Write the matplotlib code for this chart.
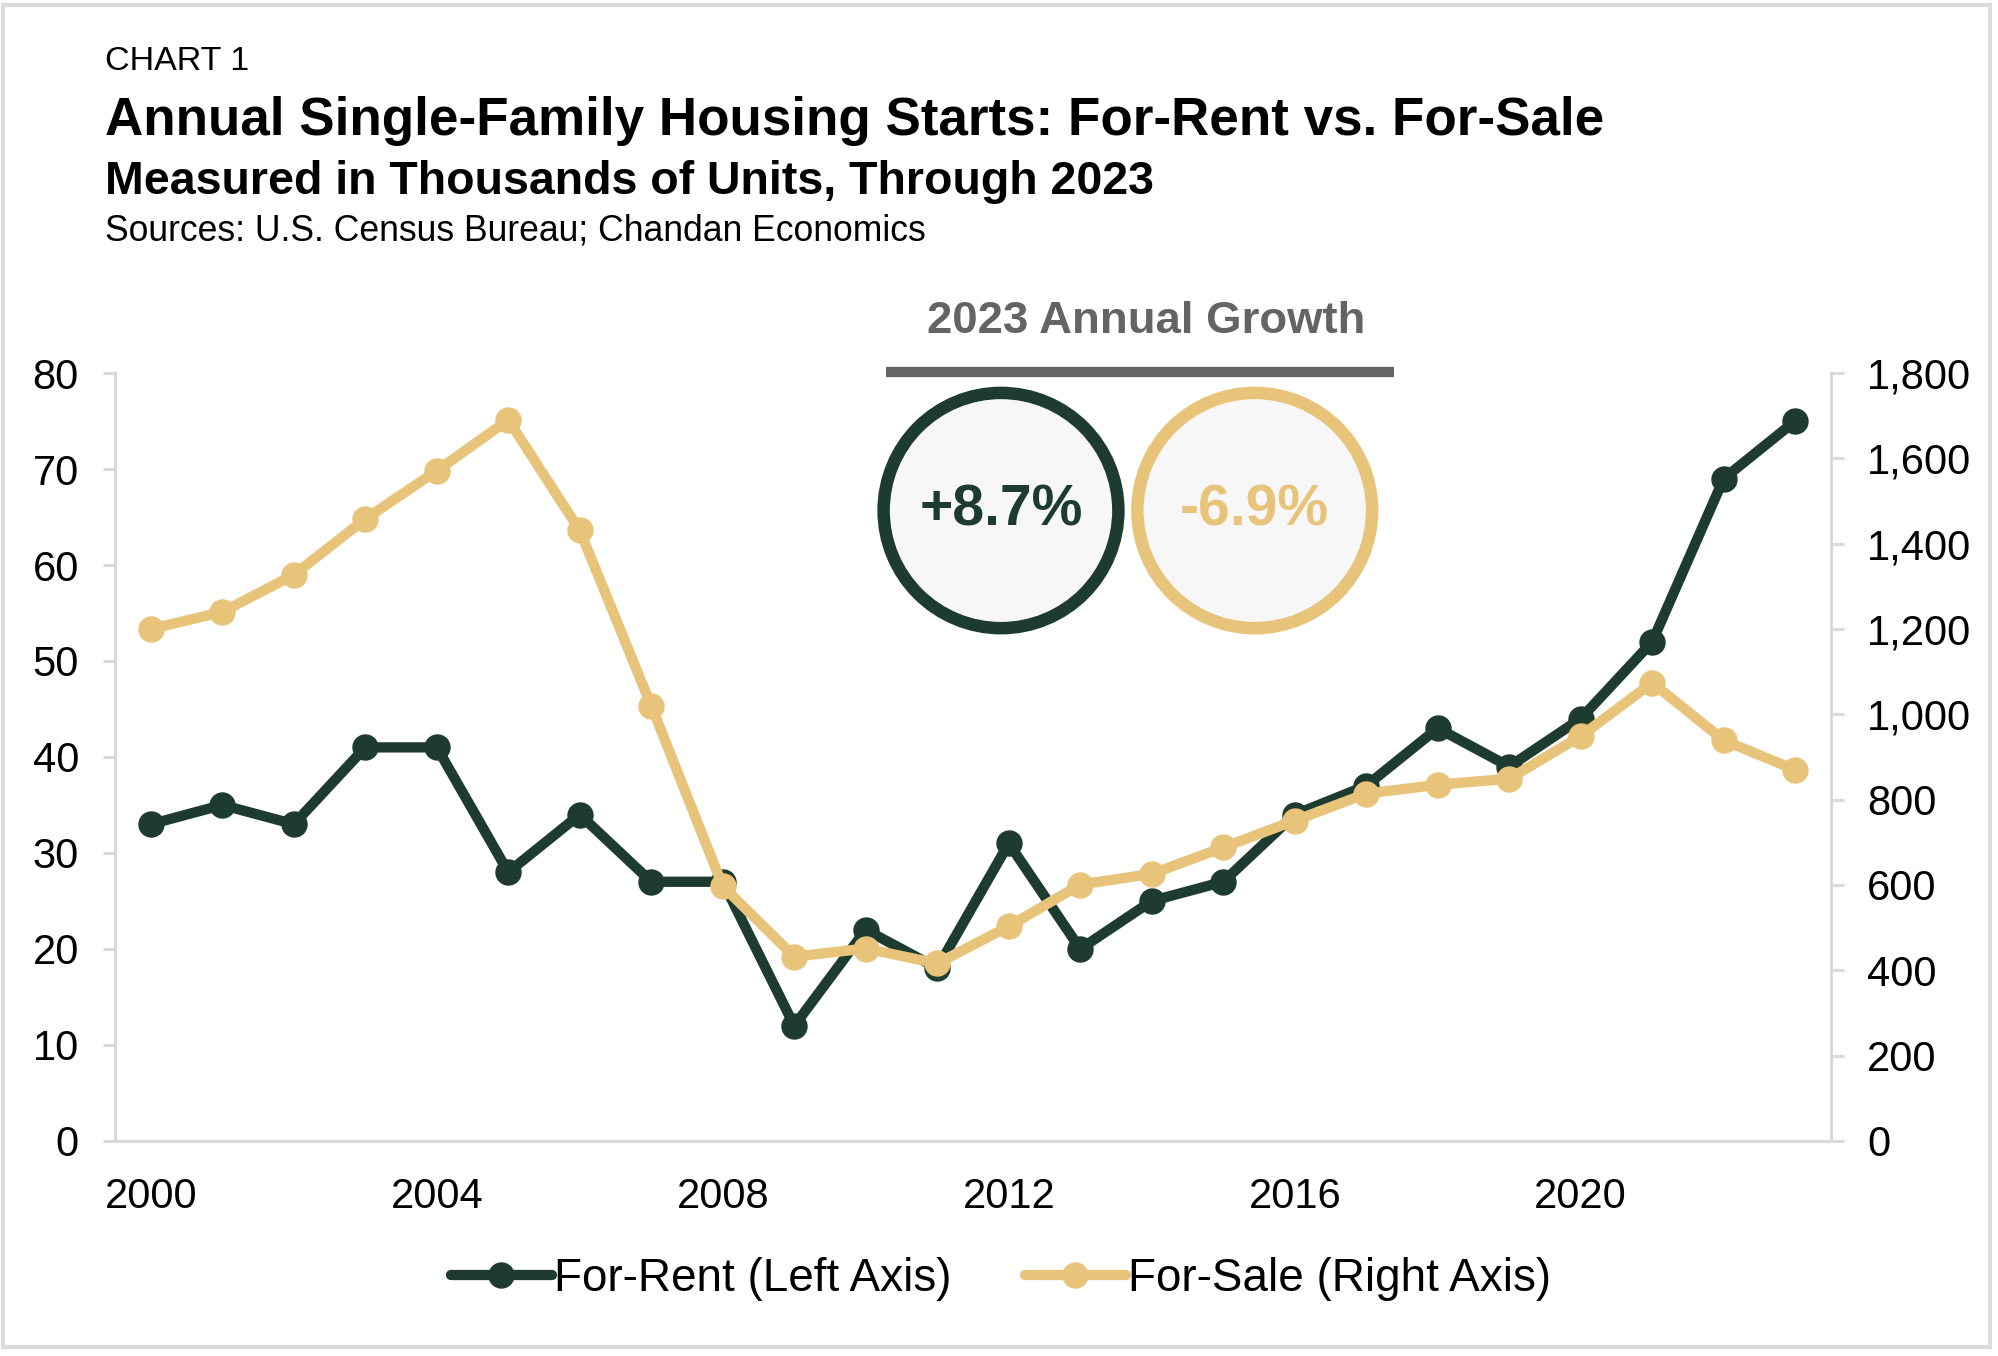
"""Chart 1 — annual single-family housing starts, for-rent vs. for-sale (thousands)."""

import matplotlib

matplotlib.use("Agg")
import matplotlib.pyplot as plt  # noqa: E402
from matplotlib import font_manager  # noqa: E402
from matplotlib.lines import Line2D  # noqa: E402
from matplotlib.patches import Ellipse, Rectangle  # noqa: E402
from matplotlib.ticker import FuncFormatter  # noqa: E402

years = list(range(2000, 2024))
for_rent = [33, 35, 33, 41, 41, 28, 34, 27, 27, 12, 22, 18,
            31, 20, 25, 27, 34, 37, 43, 39, 44, 52, 69, 75]
for_sale = [1200, 1240, 1327, 1458, 1571, 1690, 1431, 1020, 597, 432, 451, 416,
            503, 601, 626, 688, 751, 814, 835, 849, 949, 1074, 939, 870]
x_ticks = [2000, 2004, 2008, 2012, 2016, 2020]
left_ticks = [0, 10, 20, 30, 40, 50, 60, 70, 80]
right_ticks = [0, 200, 400, 600, 800, 1000, 1200, 1400, 1600, 1800]
growth_rent = "+8.7%"
growth_sale = "-6.9%"

GREEN = "#1d3c2f"
GOLD = "#e8c47b"
GREY_TXT = "#636466"
AXIS = "#d9d9d9"

plt.rcParams["font.family"] = ["Liberation Sans", "DejaVu Sans"]

installed = {f.name for f in font_manager.fontManager.ttflist}
if "Liberation Sans Narrow" in installed:
    cond_family, cond_scale = ["Liberation Sans Narrow", "Liberation Sans"], 1.0
else:
    cond_family, cond_scale = ["Liberation Sans", "DejaVu Sans"], 0.84

fig = plt.figure(figsize=(19.98, 13.56), dpi=100)
ax = fig.add_axes([0.0576, 0.1586, 0.9164 - 0.0576, 0.7249 - 0.1586])
ax2 = ax.twinx()

line_kw = dict(lw=7.4, ms=18, solid_capstyle="round", solid_joinstyle="round")
ax.plot(years, for_rent, "o-", color=GREEN, label="For-Rent (Left Axis)", **line_kw)
ax2.plot(years, for_sale, "o-", color=GOLD, label="For-Sale (Right Axis)", **line_kw)

ax.set_xlim(1999.5, 2023.5)
ax.set_ylim(0, 80)
ax2.set_ylim(0, 1800)
ax.set_xticks(x_ticks)
ax.set_yticks(left_ticks)
ax2.set_yticks(right_ticks)
ax2.yaxis.set_major_formatter(FuncFormatter(lambda v, _: f"{v:,.0f}"))

for a in (ax, ax2):
    a.spines["top"].set_visible(False)
    for s in ("left", "right", "bottom"):
        a.spines[s].set_color(AXIS)
        a.spines[s].set_linewidth(2.2)
ax.tick_params(axis="x", length=0, pad=26, labelsize=30)
ax.tick_params(axis="y", length=9, width=2.2, color=AXIS, pad=17, labelsize=30)
ax2.tick_params(axis="y", length=9, width=2.2, color=AXIS, pad=17, labelsize=30)

# header text
fig.text(0.0525, 0.9545, "CHART 1", fontsize=24.5, va="center", ha="left")
fig.text(0.0525, 0.911, "Annual Single-Family Housing Starts: For-Rent vs. For-Sale",
         fontsize=38.2, fontweight="bold", va="center", ha="left")
fig.text(0.0525, 0.866, "Measured in Thousands of Units, Through 2023",
         fontsize=33.5, fontweight="bold", va="center", ha="left")
fig.text(0.0525, 0.8295, "Sources: U.S. Census Bureau; Chandan Economics",
         fontsize=25.6, va="center", ha="left")

# growth call-out
fig.text(0.5737, 0.763, "2023 Annual Growth", family=cond_family, fontsize=39 * cond_scale,
         fontweight="bold", color=GREY_TXT, ha="center", va="center")
fig.add_artist(Line2D([0.4435, 0.6975], [0.7254, 0.7254], transform=fig.transFigure,
                      color=GREY_TXT, lw=7.4, solid_capstyle="butt"))
for cx, col, txt in ((0.501, GREEN, growth_rent), (0.628, GOLD, growth_sale)):
    fig.add_artist(Ellipse((cx, 0.6235), 0.1175, 0.1735, transform=fig.transFigure,
                           facecolor="#f7f7f7", edgecolor=col, lw=9))
    fig.text(cx, 0.6235, txt, family=cond_family, fontsize=49 * cond_scale, fontweight="bold",
             color=col, ha="center", va="center")

# legend
h1, l1 = ax.get_legend_handles_labels()
h2, l2 = ax2.get_legend_handles_labels()
fig.legend(h1 + h2, l1 + l2, loc="center", bbox_to_anchor=(0.501, 0.0565), ncol=2,
           frameon=False, fontsize=33, handlelength=2.2, handletextpad=0.05,
           columnspacing=1.6)

# outer frame
fig.add_artist(Rectangle((0.0015, 0.0066), 0.9945, 0.9897, transform=fig.transFigure,
                         fill=False, edgecolor="#dcdcdc", lw=3))

fig.savefig("out.png", dpi=100)
